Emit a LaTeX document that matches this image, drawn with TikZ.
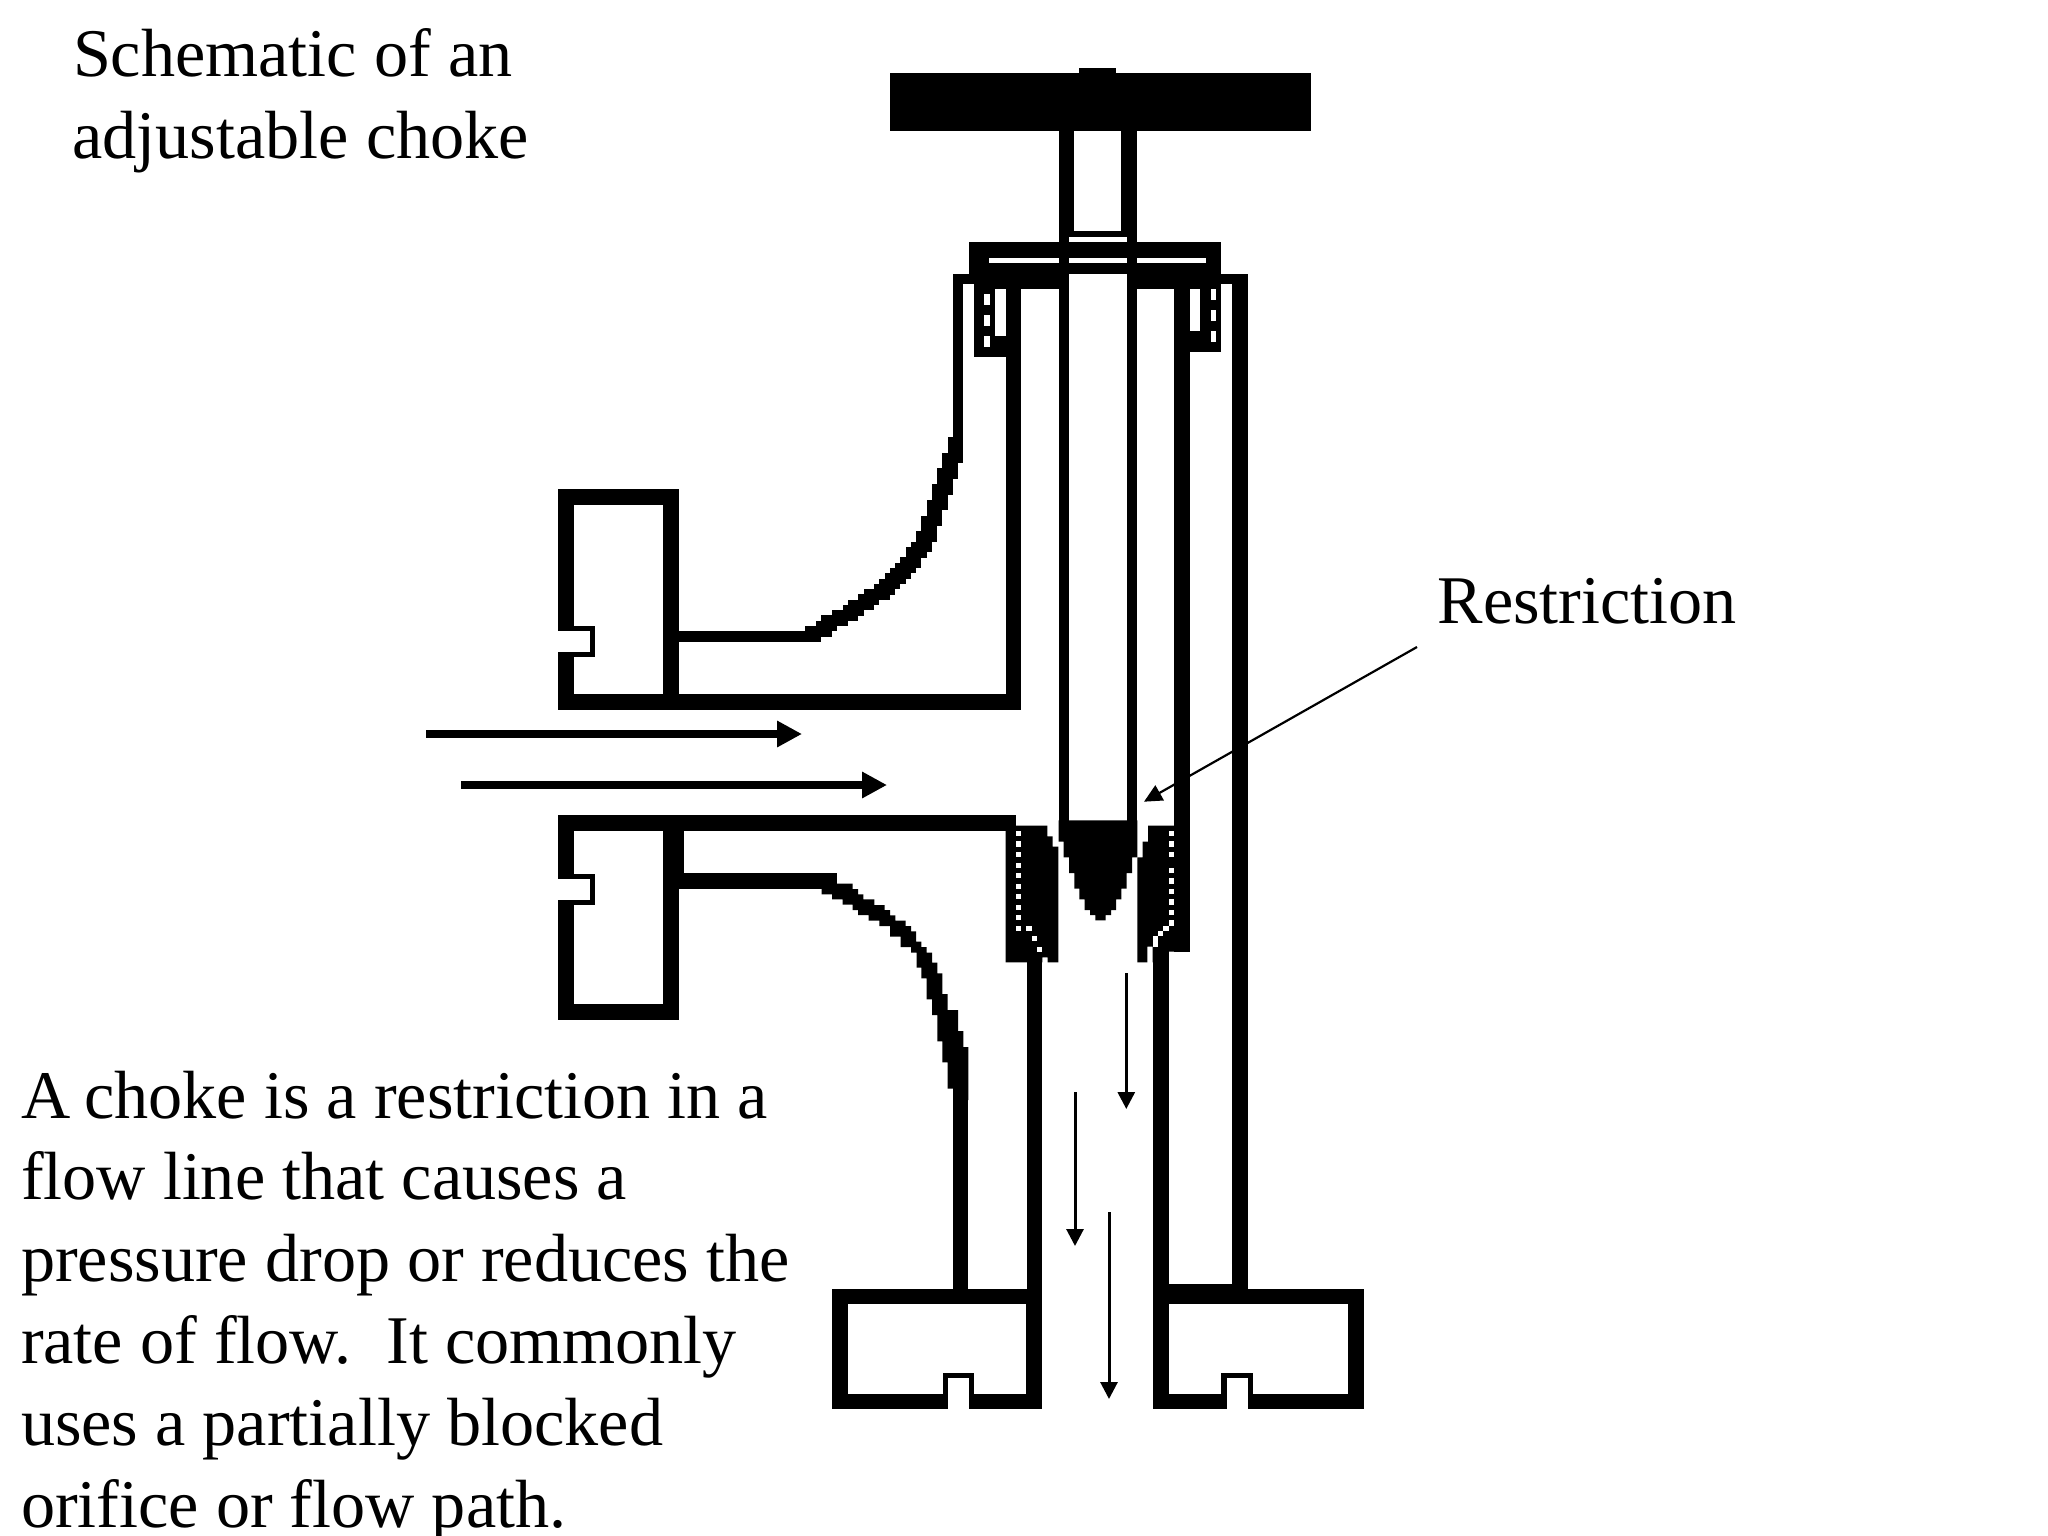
\documentclass[tikz,border=0pt]{standalone}
\usepackage{fontspec}
\setmainfont{Liberation Serif}
\usetikzlibrary{arrows.meta}
\tikzset{
  label text/.style={inner sep=0pt,outer sep=0pt,anchor=base west,font=\fontsize{68.2}{82}\selectfont},
  flow arrow/.style={line width=8pt,-{Triangle[length=25pt,width=25pt]}},
  thin arrow/.style={line width=3pt,-{Triangle[length=17pt,width=17pt]}},
  pointer arrow/.style={line width=2.2pt,-{Triangle[length=18pt,width=17pt]}},
  zoomA/.style={shift={(980,780)},x=0.33333pt,y=-0.33333pt},
  zoomB/.style={shift={(540,470)},x=0.33333pt,y=-0.33333pt},
  zoomC/.style={shift={(540,800)},x=0.33333pt,y=-0.33333pt}
}
\newcommand{\blk}[4]{\fill[black] (#1,#2) rectangle (#3,#4);}
\newcommand{\wht}[4]{\fill[white] (#1,#2) rectangle (#3,#4);}
\begin{document}
\begin{tikzpicture}[x=1pt,y=-1pt]
\useasboundingbox (0,0) rectangle (2048,1536);
\fill[white] (0,0) rectangle (2048,1536);
% handle
\blk{890}{73}{1311}{131}
\blk{1079}{68}{1116}{74}
\blk{1059}{130}{1137}{243}
\wht{1074}{131}{1121}{231}
\wht{1069}{237}{1127}{242}
% cap
\blk{969}{242}{1221}{275}
\blk{953}{274}{1248}{284}
\blk{974}{284}{1221}{289}
% gland left
\blk{974}{284}{1006}{357}
\blk{1006}{284}{1021}{710}
% gland right
\blk{1190}{284}{1221}{352}
\blk{1174}{284}{1190}{952}
% outer walls
\blk{953}{274}{963}{447}
\blk{1232}{274}{1247.5}{1290}
% stem
\blk{1059}{284}{1069}{830}
\blk{1127}{284}{1137.3}{830}
% slots in the cap
\wht{989}{258}{1059}{263}
\wht{1069}{258}{1127}{263}
\wht{1137}{258}{1206}{263}
\wht{1069}{274}{1127}{820.3}
% gland gaps
\wht{995}{289}{1006}{336}
\wht{1190}{289}{1200}{331}
\foreach \y in {294,315,336} {\wht{984}{\y}{990}{\y+11}}
\foreach \y in {289,310,331} {\wht{1211}{\y}{1216}{\y+11}}
% upper flange
\blk{558}{489}{679}{710}
\wht{574}{505}{663}{694}
\blk{558}{626}{595}{657}
\wht{557}{631}{590}{652}
\blk{679}{631}{805}{642}
\blk{663}{694}{1021}{710}
% lower flange
\blk{558}{815}{679}{1020}
\wht{574}{831}{663}{1004}
\blk{558}{874}{595}{905}
\wht{557}{879}{590}{900}
\blk{663}{815}{1016}{831}
\blk{663}{831}{684}{873}
\blk{679}{873}{837}{889}
% upper curve
\begin{scope}[zoomB]
\foreach \x/\y [remember=\x as \px (initially 796), remember=\y as \py (initially 484)] in
 {796/468,828/468,828/452,844/452,844/436,876/436,876/420,908/420,908/405,924/405,924/389,955/389,955/373,971/373,971/357,1003/357,1003/342,1018/342,1018/326,1034/326,1034/310,1050/310,1050/295,1066/295,1066/278,1081/278,1081/262,1097/262,1097/231,1113/231,1113/215,1128/215,1128/184,1144/184,1144/137,1160/137,1160/89,1176/89,1176/42,1192/42,1192/-5,1207/-5,1207/-52,1223/-52,1223/-99}
 {\fill[black] (\px,\y) rectangle (\x+47,\py+32);}
\end{scope}
% lower curve
\begin{scope}[zoomC]
\fill[black] (890,220)--(890,251)--(938,251)--(938,267)--(954,267)--(954,283)--(970,283)--(970,298)--(1003,298)--(1003,315)--(1034,315)--(1034,330)--(1050,330)--(1050,346)--(1066,346)--(1066,362)--(1097,362)--(1097,378)--(1113,378)--(1113,394)--(1128,394)--(1128,425)--(1144,425)--(1144,441)--(1160,441)--(1160,458)--(1176,458)--(1176,488)--(1192,488)--(1192,520)--(1207,520)--(1207,582)--(1223,582)--(1223,630)--(1254,630)--(1254,693)--(1270,693)--(1270,741)--(1285,741)--(1285,900)
--(1240,900)--(1240,866)--(1223,866)--(1223,787)--(1207,787)--(1207,724)--(1192,724)--(1192,645)--(1176,645)--(1176,598)--(1160,598)--(1160,535)--(1144,535)--(1144,503)--(1130,503)--(1130,458)--(1113,458)--(1113,441)--(1082,441)--(1082,410)--(1050,410)--(1050,378)--(1018,378)--(1018,362)--(986,362)--(986,345)--(954,345)--(954,330)--(938,330)--(938,314)--(908,314)--(908,298)--(876,298)--(876,283)--(845,283)--(845,267)--cycle;
\end{scope}
\blk{953.3}{1085}{968.3}{1290}
% tubes to the bottom flanges
\blk{1026.7}{955}{1042.3}{1290}
\blk{1152.7}{945}{1168.7}{1290}
% restriction blocks and needle tip
\begin{scope}[zoomA]
\fill[black] (77,105)--(107,105)--(107,137)--(202,137)--(202,169)--(218,169)--(218,200)--(235,200)--(235,547)--(203,547)--(203,532)--(187,532)--(187,547)--(140,547)--(77,547)--cycle;
\fill[black] (504,137)--(582,137)--(582,300)--(629,300)--(629,515)--(566,515)--(566,547)--(518,547)--(518,500)--(502,500)--(502,547)--(472,547)--(472,232)--(488,232)--(488,185)--(504,185)--cycle;
\fill[black] (236,121)--(472,121)--(472,232)--(456,232)--(456,279)--(440,279)--(440,326)--(424,326)--(424,358)--(408,358)--(408,390)--(393,390)--(393,405)--(377,405)--(377,421)--(346,421)--(346,405)--(330,405)--(330,390)--(314,390)--(314,358)--(298,358)--(298,326)--(283,326)--(283,279)--(267,279)--(267,232)--(251,232)--(251,185)--(236,185)--cycle;
\foreach \y in {161,192,224,256,287,319,350,382,413,445}
  {\fill[white] (108,\y-8) rectangle (124,\y+8);}
\foreach \x/\y in {147/445,163/476,179/508}
  {\fill[white] (\x-8,\y-8) rectangle (\x+8,\y+8);}
\foreach \y in {161,192,224,272,303,335,366,398,429}
  {\fill[white] (566,\y-8) rectangle (582,\y+8);}
\foreach \x/\y in {558/445,542/461,526/477,526/493}
  {\fill[white] (\x-8,\y-8) rectangle (\x+8,\y+8);}
\end{scope}
% bottom flanges
\blk{832}{1288.7}{1042}{1409}
\wht{847.5}{1304}{1026}{1394}
\blk{942.5}{1373}{974}{1395}
\wht{947.5}{1378}{968.5}{1410}
\blk{1153}{1283.7}{1247.5}{1290}
\blk{1153}{1288.7}{1363.5}{1409}
\wht{1168.6}{1304}{1347.5}{1394}
\blk{1221}{1373}{1252.5}{1395}
\wht{1227}{1378}{1247.5}{1410}
% texts
\node[label text] (title1) at (73,77) {Schematic of an};
\node[label text] (title2) at (72.5,158.5) {adjustable choke};
\node[label text] (restr) at (1437.5,623) {Restriction};
\node[label text] (body1) at (21,1118) {A\kern-3pt{} choke is a restriction in a};
\node[label text] (body2) at (21,1199.8) {flow line that causes a};
\node[label text] (body3) at (21,1281.6) {pressure drop or reduces the};
\node[label text] (body4) at (21,1363.4) {rate of flow. \kern12pt It commonly};
\node[label text] (body5) at (21,1445.2) {uses a partially blocked};
\node[label text] (body6) at (21,1527) {orifice or flow path.};
% arrows
\coordinate (f1s) at (426,734); \coordinate (f1e) at (802,734);
\coordinate (f2s) at (461,785); \coordinate (f2e) at (887,785);
\coordinate (a1s) at (1126.3,973); \coordinate (a1e) at (1126.3,1109);
\coordinate (a2s) at (1075,1092); \coordinate (a2e) at (1075,1246);
\coordinate (a3s) at (1109,1212); \coordinate (a3e) at (1109,1399);
\coordinate (ps) at (1417,647); \coordinate (pe) at (1144,801.7);
\draw[flow arrow] (f1s) -- (f1e);
\draw[flow arrow] (f2s) -- (f2e);
\draw[thin arrow] (a1s) -- (a1e);
\draw[thin arrow] (a2s) -- (a2e);
\draw[thin arrow] (a3s) -- (a3e);
\draw[pointer arrow] (ps) -- (pe);
\end{tikzpicture}
\end{document}
